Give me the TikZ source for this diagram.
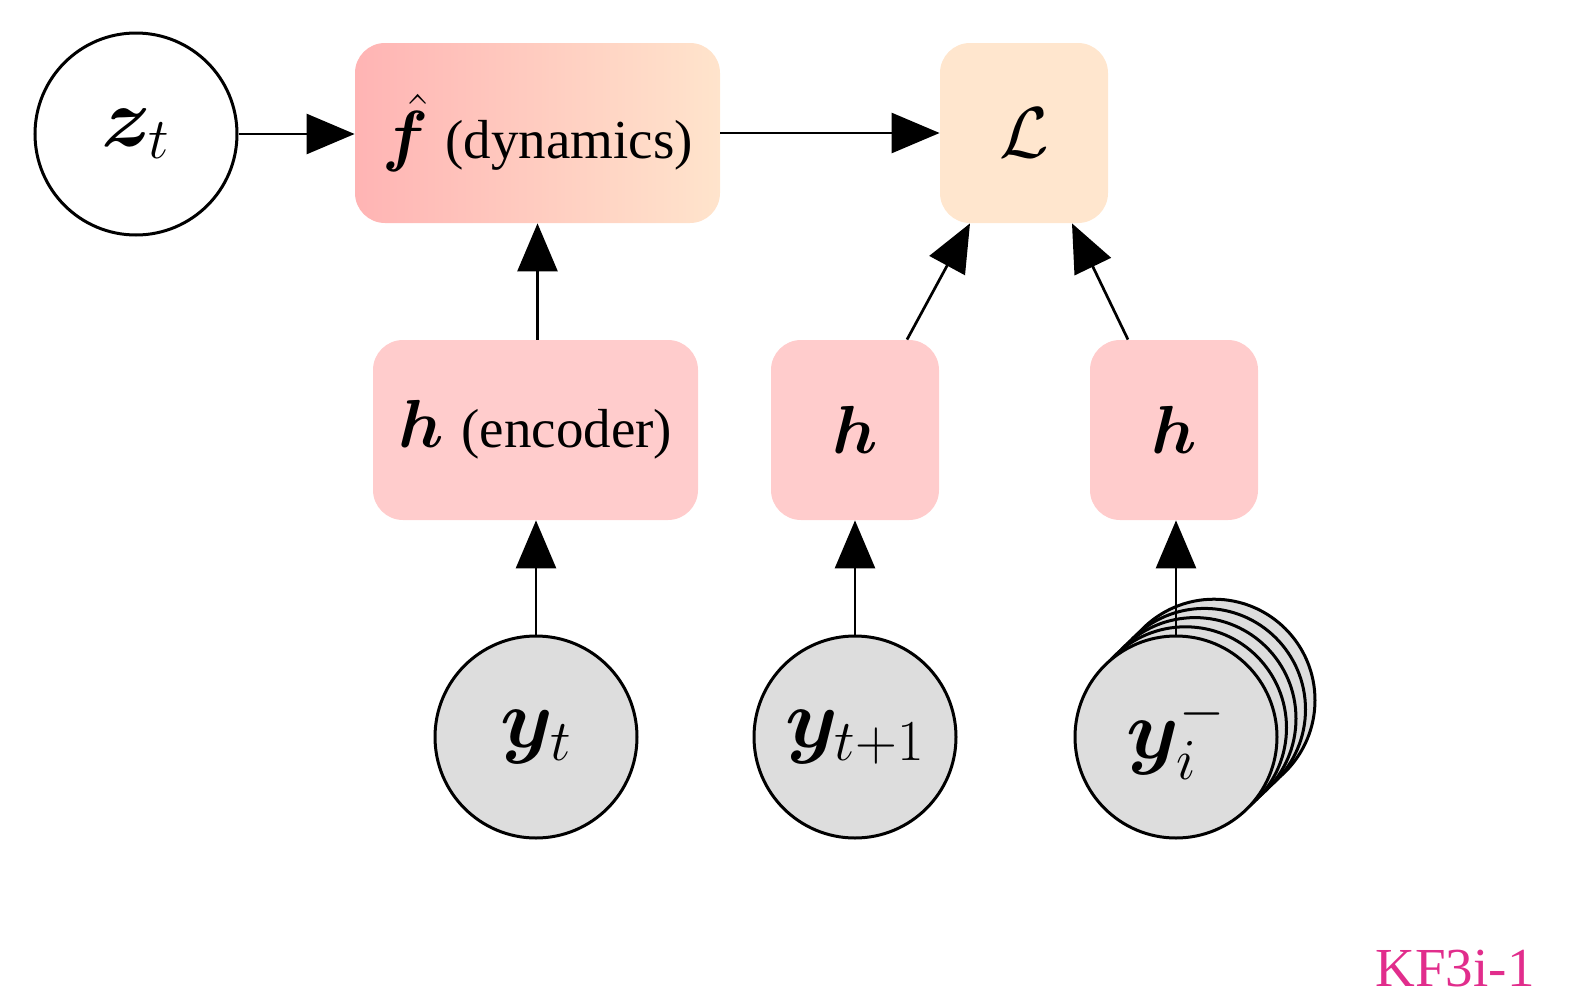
\RequirePackage{fix-cm}
\documentclass[tikz,border=0pt]{standalone}
\usepackage[no-math]{fontspec}
\setmainfont{Liberation Serif}
\usepackage{amsmath,bm}
\usetikzlibrary{arrows.meta}
\DeclareMathSizes{42}{42}{29}{21}
\definecolor{hpink}{HTML}{FFCCCC}
\definecolor{fleft}{HTML}{FFB4B4}
\definecolor{fright}{HTML}{FFE4CC}
\definecolor{lpeach}{HTML}{FFE6CE}
\definecolor{obsgray}{HTML}{DDDDDD}
\definecolor{kfpink}{HTML}{E12D8C}
\tikzset{
  box/.style={rounded corners=15pt, minimum height=90pt, inner sep=0pt, font=\fontsize{34}{40}\selectfont},
  hbox/.style={box, fill=hpink},
  var/.style={circle, draw, line width=1.5pt, minimum size=101pt, inner sep=0pt, font=\fontsize{42}{48}\selectfont},
  obs/.style={var, fill=obsgray},
  arr/.style={line width=1.35pt, -{Triangle[length=24pt,width=20pt]}},
}
\newcommand{\txtsz}{\fontsize{27.5}{32}\selectfont}
\begin{document}
\begin{tikzpicture}[x=0.5pt,y=-0.5pt]
\useasboundingbox (0,0) rectangle (1576,996);
\node[var, fill=white] (z) at (136,134) {$\boldsymbol{z}_t$};
\node[box, minimum width=182.5pt, left color=fleft, right color=fright] (f) at (537.5,133) {$\hat{\boldsymbol{f}}$ {\txtsz (dynamics)}};
\node[box, minimum width=84pt, fill=lpeach, font=\fontsize{36}{42}\selectfont] (L) at (1024,133) {$\mathcal{L}$};
\node[hbox, minimum width=162.5pt] (he) at (535.5,430) {$\boldsymbol{h}$ {\txtsz (encoder)}};
\node[hbox, minimum width=84pt] (h2) at (855,430) {$\boldsymbol{h}$};
\node[hbox, minimum width=84pt] (h3) at (1174,430) {$\boldsymbol{h}$};
\node[obs] (yt) at (536,737) {$\boldsymbol{y}_t$};
\node[obs] (yt1) at (855,737) {$\boldsymbol{y}_{t+1}$};
\foreach \k in {4,3,2,1} {
  \node[obs] (yneg\k) at (1176+9.5*\k, 737-9.2*\k) {};
}
\node[obs] (yneg) at (1176,737) {$\boldsymbol{y}_i^-$};
\draw[arr] (z.east) -- (z.east -| f.west);
\draw[arr] (f.east) -- (L.west);
\draw[arr] (he.north -| f.south) -- (f.south);
\draw[arr] (yt.north) -- (yt.north |- he.south);
\draw[arr] (yt1.north) -- (h2.south);
\draw[arr] (yneg.north) -- (yneg.north |- h3.south);
\draw[arr] ([xshift=26pt]h2.north) -- ([xshift=-27pt]L.south);
\draw[arr] ([xshift=-23pt]h3.north) -- ([xshift=24pt]L.south);
\node[anchor=base east, inner sep=0pt, text=kfpink, font=\txtsz] (tag) at (1535,986) {KF3i-1};
\end{tikzpicture}
\end{document}
